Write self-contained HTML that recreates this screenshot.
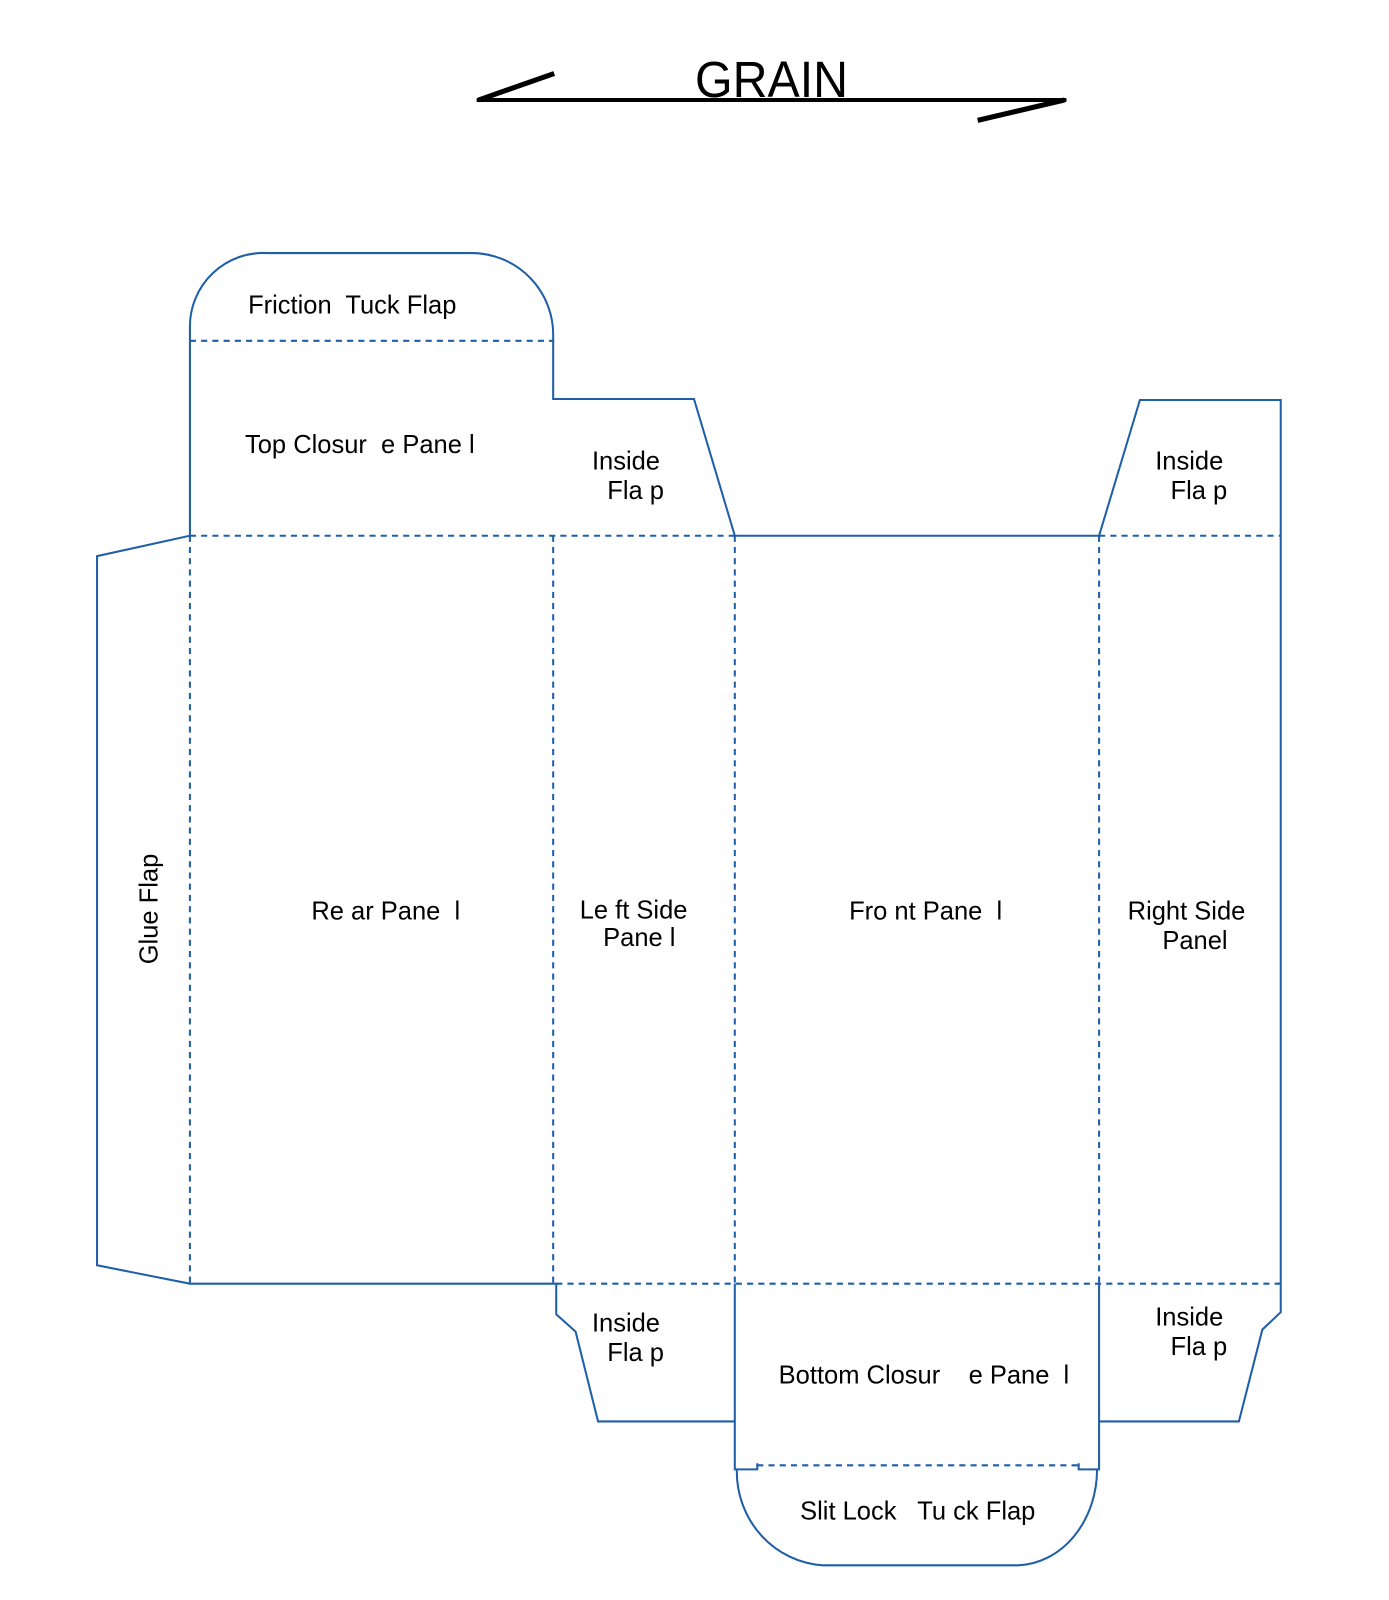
<!DOCTYPE html>
<html><head><style>html,body{margin:0;padding:0;background:#fff}svg{display:block}text{white-space:pre}</style></head>
<body>
<svg width="1389" height="1600" viewBox="0 0 1361 1568" xmlns="http://www.w3.org/2000/svg" xml:space="preserve">
<g fill="none" stroke="#000" stroke-width="4">
<line x1="467" y1="98" x2="1045" y2="98"/>
<line x1="469" y1="98" x2="543" y2="72" stroke-width="5"/>
<line x1="1043" y1="98" x2="958" y2="118" stroke-width="5"/>
</g>
<text x="756" y="95" font-family="Liberation Sans, sans-serif" font-size="50" text-anchor="middle" fill="#000" textLength="150" lengthAdjust="spacingAndGlyphs">GRAIN</text>
<g fill="none" stroke="#1f5fa8" stroke-width="2">
<path d="M186,334 L186,320 A72,72 0 0 1 262,248 L462,248 A80,80 0 0 1 542,330 L542,391 L680,391 L720,525 L1077,525 L1117,392 L1255,392 L1255,1286 L1237,1303 L1214,1393 L1077,1393"/>
<path d="M186,334 L186,525 L95,545 L95,1240 L186,1258 L545,1258 L545,1288 L564,1305 L586,1393 L720,1393"/>
<path d="M720,1258 L720,1440 L742,1440 L742,1434"/>
<path d="M1077,1258 L1077,1440 L1057,1440 L1057,1434"/>
<path d="M722,1440 A90,92 0 0 0 806,1534 L998,1534 A80,94 0 0 0 1075,1440"/>
</g>
<g fill="none" stroke="#1f5fa8" stroke-width="2" stroke-dasharray="6,5">
<line x1="186" y1="334" x2="542" y2="334"/>
<line x1="186" y1="525" x2="720" y2="525"/>
<line x1="1077" y1="525" x2="1255" y2="525"/>
<line x1="545" y1="1258" x2="1255" y2="1258"/>
<line x1="186" y1="525" x2="186" y2="1258"/>
<line x1="542" y1="525" x2="542" y2="1258"/>
<line x1="720" y1="525" x2="720" y2="1258"/>
<line x1="1077" y1="525" x2="1077" y2="1258"/>
<line x1="742" y1="1436" x2="1057" y2="1436"/>
</g>
<g font-family="Liberation Sans, sans-serif" font-size="25" fill="#000">
<text x="243" y="307">Friction  Tuck Flap</text>
<text x="240" y="444">Top Closur  e Pane l</text>
<text x="580" y="460">Inside</text><text x="595" y="489">Fla p</text>
<text x="1132" y="460">Inside</text><text x="1147" y="489">Fla p</text>
<text x="305" y="901">Re ar Pane  l</text>
<text x="568" y="900">Le ft Side</text><text x="591" y="927">Pane l</text>
<text x="832" y="901">Fro nt Pane  l</text>
<text x="1105" y="901">Right Side</text><text x="1139" y="930">Panel</text>
<text x="580" y="1305">Inside</text><text x="595" y="1334">Fla p</text>
<text x="1132" y="1299">Inside</text><text x="1147" y="1328">Fla p</text>
<text x="763" y="1356">Bottom Closur    e Pane  l</text>
<text x="784" y="1489">Slit Lock   Tu ck Flap</text>
<text transform="translate(154,945) rotate(-90)">Glue Flap</text>
</g>
</svg>
</body></html>
